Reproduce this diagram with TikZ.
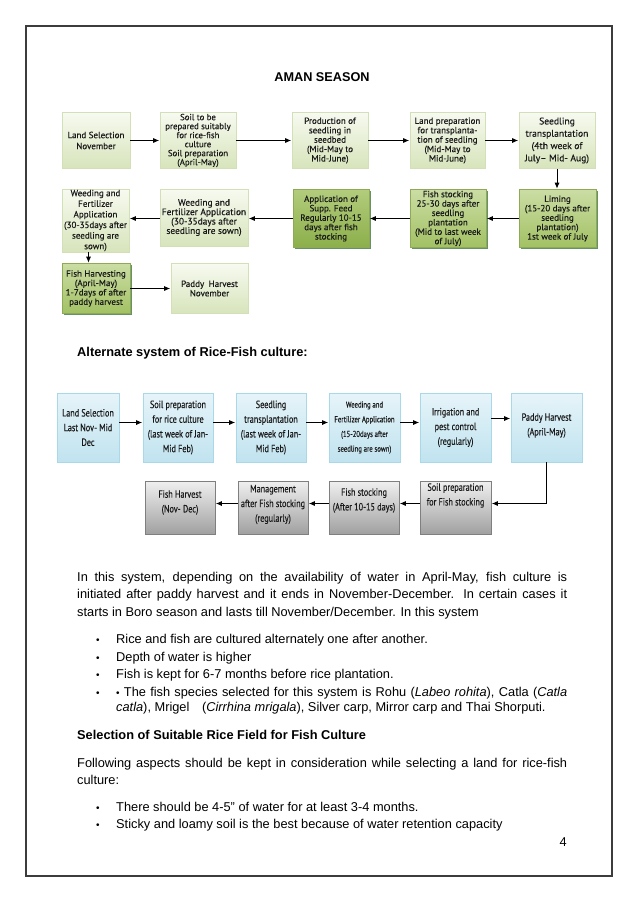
\documentclass[tikz,border=0pt]{standalone}
\usepackage{fontspec}
\setmainfont{Liberation Sans}
\newfontfamily\boxfont[FakeBold=0.35]{PT Sans}
\newfontfamily\condfont[FakeStretch=0.78,FakeBold=0.2]{PT Sans}
\usetikzlibrary{arrows.meta,shadows,calc}
\definecolor{pageborder}{HTML}{3C3C3C}
\definecolor{lgtop}{HTML}{F7FAF0}
\definecolor{lgbot}{HTML}{D7E4BB}
\definecolor{lgdraw}{HTML}{D3DFB6}
\definecolor{mgtop}{HTML}{CBDDA4}
\definecolor{mgbot}{HTML}{A2C163}
\definecolor{dgtop}{HTML}{B2CC7C}
\definecolor{dgbot}{HTML}{8CAF4A}
\definecolor{gdraw}{HTML}{8EAA56}
\definecolor{bltop}{HTML}{E6F4F9}
\definecolor{blbot}{HTML}{C0E3EF}
\definecolor{bldraw}{HTML}{A9D8E8}
\definecolor{grtop}{HTML}{F0F0F0}
\definecolor{grbot}{HTML}{A0A0A0}
\definecolor{grdraw}{HTML}{7F7F7F}
\tikzset{
  gbox/.style={draw=lgdraw, line width=0.6pt, top color=lgtop, bottom color=lgbot,
    align=center, inner sep=0pt, text=black!90,
    font=\boxfont\fontsize{9}{9.4}\selectfont},
  mbox/.style={gbox, draw=gdraw, top color=mgtop, bottom color=mgbot,
    drop shadow={shadow xshift=1.5pt, shadow yshift=-1.5pt, fill=black!70!green, opacity=0.6}},
  dbox/.style={mbox, top color=dgtop, bottom color=dgbot},
  bbox/.style={draw=bldraw, line width=0.6pt, top color=bltop, bottom color=blbot,
    align=center, inner sep=1pt, text=black!90,
    font=\condfont\fontsize{10.5}{14.7}\selectfont},
  grbox/.style={draw=grdraw, line width=0.6pt, top color=grtop, bottom color=grbot},
  grtext/.style={align=center, inner sep=0pt, text=black!90,
    font=\condfont\fontsize{10.5}{14.7}\selectfont},
  arr/.style={-{Latex[length=6pt,width=5pt]}, line width=0.9pt, black, shorten >=0.5pt},
  body/.style={anchor=base west, inner sep=0pt, font=\fontsize{12.8}{15}\selectfont},
  bul/.style={anchor=base west, inner sep=0pt, font=\fontsize{10}{12}\selectfont},
}
\begin{document}
\begin{tikzpicture}[x=1pt, y=-1pt]
\useasboundingbox (0,0) rectangle (638,902);
\fill[white] (0,0) rectangle (638,902);
\draw[pageborder, line width=1.2pt] (26,26) rectangle (612,876);

\node[anchor=base, inner sep=0pt, font=\bfseries\fontsize{12.7}{15}\selectfont] (title) at (322,81) {AMAN SEASON};

% Row 1
\node[gbox, minimum width=68pt, minimum height=56pt, font=\boxfont\fontsize{9}{11}\selectfont] (a1) at (96,140.5) {Land Selection\\November};
\node[gbox, minimum width=76pt, minimum height=56pt, font=\boxfont\fontsize{8.8}{9}\selectfont] (a2) at (198,140.5) {Soil to be\\prepared suitably\\for rice-fish\\culture\\Soil preparation\\(April-May)};
\node[gbox, minimum width=76pt, minimum height=56pt] (a3) at (330,140.5) {Production of\\seedling in\\seedbed\\(Mid-May to\\Mid-June)};
\node[gbox, minimum width=75pt, minimum height=56pt] (a4) at (447.5,140.5) {Land preparation\\for transplanta-\\tion of seedling\\(Mid-May to\\Mid-June)};
\node[gbox, minimum width=76pt, minimum height=56pt, font=\boxfont\fontsize{9.6}{12.3}\selectfont] (a5) at (557,140.5) {Seedling\\transplantation\\(4th week of\\July– Mid- Aug)};

% Row 2
\node[gbox, minimum width=67pt, minimum height=63pt, font=\boxfont\fontsize{9}{10.6}\selectfont] (b1) at (95.5,220.5) {Weeding and\\Fertilizer\\Application\\(30-35days after\\seedling are\\sown)};
\node[gbox, minimum width=88pt, minimum height=57pt, font=\boxfont\fontsize{9.4}{9.4}\selectfont] (b2) at (204,217.5) {Weeding and\\Fertilizer Application\\(30-35days after\\seedling are sown)};
\node[dbox, minimum width=76pt, minimum height=58pt] (b3) at (331,218.5) {Application of\\Supp. Feed\\Regularly 10-15\\days after fish\\stocking};
\node[mbox, minimum width=76pt, minimum height=58pt] (b4) at (448,218.5) {Fish stocking\\25-30 days after\\seedling\\plantation\\(Mid to last week\\of July)};
\node[mbox, minimum width=77pt, minimum height=58pt] (b5) at (557.5,218.5) {Liming\\(15-20 days after\\seedling\\plantation)\\1st week of July};

% Row 3
\node[mbox, minimum width=68pt, minimum height=50pt] (c1) at (96,288.5) {Fish Harvesting\\(April-May)\\1-7days of after\\paddy harvest};
\node[gbox, minimum width=77pt, minimum height=50pt] (c2) at (209.5,288.5) {Paddy\enspace Harvest\\November};

\draw[arr] (a1) -- (a2);
\draw[arr] (a2) -- (a3);
\draw[arr] (a3) -- (a4);
\draw[arr] (a4) -- (a5);
\draw[arr] (a5.south) -- (a5.south |- b5.north);
\draw[arr] (b5) -- (b4);
\draw[arr] (b4) -- (b3);
\draw[arr] (b3) -- (b2.east |- b3.west);
\draw[arr] (b2.west |- b3.west) -- (b1.east |- b3.west);
\draw[arr] ([xshift=-7pt]b1.south) -- ([xshift=-7pt]b1.south |- c1.north);
\draw[arr] (c1) -- (c2);

\node[anchor=base west, inner sep=0pt, font=\bfseries\fontsize{12.8}{15}\selectfont] (alt) at (77,356.5) {Alternate system of Rice-Fish culture:};

% Blue row
\node[bbox, minimum width=62pt, minimum height=69pt] (l1) at (88,427.5) {Land Selection\\Last Nov- Mid\\Dec};
\node[bbox, minimum width=70pt, minimum height=69pt] (l2) at (178,427.5) {Soil preparation\\for rice culture\\(last week of Jan-\\Mid Feb)};
\node[bbox, minimum width=70pt, minimum height=69pt] (l3) at (271,427.5) {Seedling\\transplantation\\(last week of Jan-\\Mid Feb)};
\node[bbox, minimum width=71pt, minimum height=69pt, font=\condfont\fontsize{8.6}{14.7}\selectfont] (l4) at (364.5,427.5) {Weeding and\\Fertilizer Application\\(15-20days after\\seedling are sown)};
\node[bbox, minimum width=71pt, minimum height=69pt] (l5) at (455.5,427.5) {Irrigation and\\pest control\\(regularly)};
\node[bbox, minimum width=71pt, minimum height=69pt] (l6) at (546.5,427.5) {};
\node[grtext] (l6t) at (546.5,425.5) {Paddy Harvest\\(April-May)};

% Grey row
\node[grbox, minimum width=71pt, minimum height=53pt] (g4) at (455.5,507.5) {};
\node[grbox, minimum width=70pt, minimum height=53pt] (g3) at (364,507.5) {};
\node[grbox, minimum width=70pt, minimum height=53pt] (g2) at (273,507.5) {};
\node[grbox, minimum width=70pt, minimum height=53pt] (g1) at (180,507.5) {};
\node[grtext] (g4t) at (455.5,495.5) {Soil preparation\\for Fish stocking};
\node[grtext] (g3t) at (364,500.5) {Fish stocking\\(After 10-15 days)};
\node[grtext] (g2t) at (273,504.5) {Management\\after Fish stocking\\(regularly)};
\node[grtext] (g1t) at (180,502.5) {Fish Harvest\\(Nov- Dec)};

\draw[arr] ([yshift=5pt]l1.east) -- ([yshift=5pt]l2.west);
\draw[arr] ([yshift=5pt]l2.east) -- ([yshift=5pt]l3.west);
\draw[arr] ([yshift=5pt]l3.east) -- ([yshift=5pt]l4.west);
\draw[arr] ([yshift=5pt]l4.east) -- ([yshift=5pt]l5.west);
\draw[arr] ([yshift=9pt]l5.east) -- ([yshift=9pt]l6.west);
\draw[arr] (l6.south) |- ([yshift=4pt]g4.east);
\draw[arr] ([yshift=4pt]g4.west) -- ([yshift=4pt]g3.east);
\draw[arr] ([yshift=4pt]g3.west) -- ([yshift=4pt]g2.east);
\draw[arr] ([yshift=4pt]g2.west) -- ([yshift=4pt]g1.east);

% Body text
\node[body] (p1) at (77,581.5) {\makebox[490pt][s]{In this system, depending on the availability of water in April-May, fish culture is}};
\node[body] (p2) at (77,598.5) {\makebox[490pt][s]{initiated after paddy harvest and it ends in November-December. In certain cases it}};
\node[body] (p3) at (77,616) {starts in Boro season and lasts till November/December. In this system};

\node[bul] (d1) at (96,643.5) {•};
\node[body] (t1) at (116,643.5) {Rice and fish are cultured alternately one after another.};
\node[bul] (d2) at (96,661.5) {•};
\node[body] (t2) at (116,661.5) {Depth of water is higher};
\node[bul] (d3) at (96,678.5) {•};
\node[body] (t3) at (116,678.5) {Fish is kept for 6-7 months before rice plantation.};
\node[bul] (d4) at (96,696) {•};
\node[body] (t4) at (116,696) {\makebox[451pt][s]{{\fontsize{10}{12}\selectfont•} The fish species selected for this system is Rohu (\textit{Labeo rohita}), Catla (\textit{Catla}}};
\node[body] (t4b) at (116,711.5) {\textit{catla}), Mrigel\hspace{9pt} (\textit{Cirrhina mrigala}), Silver carp, Mirror carp and Thai Shorputi.};

\node[anchor=base west, inner sep=0pt, font=\bfseries\fontsize{12.8}{15}\selectfont] (sel) at (77,739.5) {Selection of Suitable Rice Field for Fish Culture};

\node[body] (f1) at (77,767.5) {\makebox[490pt][s]{Following aspects should be kept in consideration while selecting a land for rice-fish}};
\node[body] (f2) at (77,784.5) {culture:};

\node[bul] (d5) at (96,811.5) {•};
\node[body] (t5) at (116,811.5) {There should be 4-5'' of water for at least 3-4 months.};
\node[bul] (d6) at (96,828.5) {•};
\node[body] (t6) at (116,828.5) {Sticky and loamy soil is the best because of water retention capacity};

\node[anchor=base east, inner sep=0pt, font=\fontsize{12.8}{15}\selectfont] (pg) at (567,846.5) {4};
\end{tikzpicture}
\end{document}
